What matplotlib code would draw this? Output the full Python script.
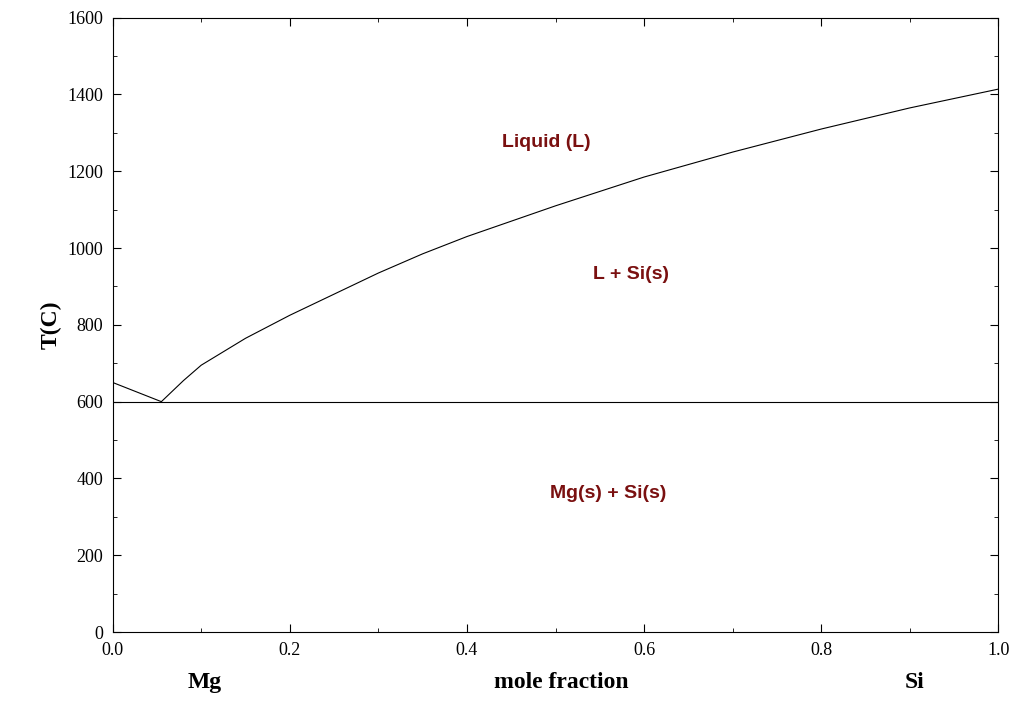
import matplotlib
matplotlib.use("Agg")
import matplotlib.pyplot as plt
from matplotlib.ticker import MultipleLocator

liq_x = [0.0, 0.055, 0.08, 0.1, 0.15, 0.2, 0.25, 0.3, 0.35, 0.4, 0.5, 0.6, 0.7, 0.8, 0.9, 1.0]
liq_y = [650, 600, 655, 695, 765, 825, 880, 935, 985, 1030, 1110, 1185, 1250, 1310, 1365, 1414]
eut_x = [0.0, 1.0]
eut_y = [600, 600]
regions = [("Liquid (L)", 0.49, 1275), ("L + Si(s)", 0.585, 930), ("Mg(s) + Si(s)", 0.56, 360)]

fig = plt.figure(figsize=(10.24, 7.07), dpi=100)
ax = fig.add_axes([0.110, 0.106, 0.865, 0.869])
ax.plot(liq_x, liq_y, color="black", lw=0.8)
ax.plot(eut_x, eut_y, color="black", lw=0.8)
ax.set_xlim(0, 1)
ax.set_ylim(0, 1600)
ax.xaxis.set_major_locator(MultipleLocator(0.2))
ax.xaxis.set_minor_locator(MultipleLocator(0.1))
ax.yaxis.set_major_locator(MultipleLocator(200))
ax.yaxis.set_minor_locator(MultipleLocator(100))
ax.tick_params(which="both", direction="in", top=True, right=True)
ax.tick_params(which="major", length=6, pad=7)
ax.tick_params(which="minor", length=3)
ax.set_xticklabels([f"{v:.1f}" for v in ax.get_xticks()])
for lab in ax.get_xticklabels() + ax.get_yticklabels():
    lab.set_fontfamily("Liberation Serif")
    lab.set_fontsize(13)
ax.set_ylabel("T(C)", fontfamily="Liberation Serif", fontweight="bold", fontsize=17)
for t, x, y in regions:
    ax.text(x, y, t, color="#7a1010", fontweight="bold", fontsize=14,
            fontfamily="Liberation Sans", ha="center", va="center")
for t, x in [("Mg", 0.2), ("mole fraction", 0.548), ("Si", 0.893)]:
    fig.text(x, 0.034, t, fontfamily="Liberation Serif", fontweight="bold", fontsize=17,
             ha="center", va="center")
fig.savefig("out.png")
